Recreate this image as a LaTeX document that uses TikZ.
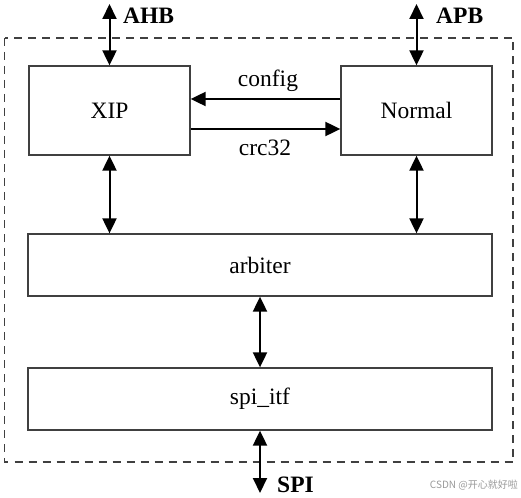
\documentclass[tikz,border=0pt]{standalone}
\usepackage{fontspec}
\setmainfont{Liberation Serif}
\newfontfamily\cjkfont{Noto Sans CJK SC}
\usetikzlibrary{arrows.meta}
\begin{document}
\begin{tikzpicture}[x=1pt,y=-1pt,
  blk/.style={draw=black!75,line width=1.3pt,minimum height=89pt,inner sep=0pt,font=\fontsize{23.5}{28}\selectfont},
  wide/.style={blk,minimum width=464pt,minimum height=62pt},
  arr/.style={line width=2pt,-{Triangle[width=14pt,length=15pt]}},
  darr/.style={line width=2pt,{Triangle[width=14pt,length=15pt]}-{Triangle[width=14pt,length=15pt]}},
  lbl/.style={font=\fontsize{23.5}{28}\selectfont,inner sep=0pt},
  blbl/.style={font=\fontsize{23.5}{28}\selectfont\bfseries,inner sep=0pt,anchor=west}]
\useasboundingbox (0,0) rectangle (521,497);
\draw[black!75,line width=1.3pt,dash pattern=on 8pt off 6pt] (4.5,38) rectangle (513,462);
\node[blk,minimum width=161pt] (xip) at (109.5,110.5) {XIP};
\node[blk,minimum width=151pt] (normal) at (416.5,110.5) {Normal};
\node[wide] (arb) at (260,265) {arbiter};
\node[wide] (spi) at (260,399) {spi\_itf};
\coordinate (ahbT) at (109.5,4);
\coordinate (apbT) at (416.5,4);
\coordinate (spiB) at (260,493);
\draw[darr] (ahbT) -- (xip.north);
\draw[darr] (apbT) -- (normal.north);
\node[blbl] (ahb) at (123,16) {AHB};
\node[blbl] (apb) at (436,16) {APB};
\draw[arr] (normal.west |- 0,99) -- (xip.east |- 0,99);
\draw[arr] (xip.east |- 0,129) -- (normal.west |- 0,129);
\node[lbl] (cfg) at (268,81) {config};
\node[lbl] (crc) at (265,148) {crc32};
\draw[darr] (xip.south) -- (xip.south |- arb.north);
\draw[darr] (normal.south) -- (normal.south |- arb.north);
\draw[darr] (arb.south) -- (spi.north);
\draw[darr] (spi.south) -- (spiB);
\node[blbl] (spil) at (277,485) {SPI};
\node[font=\cjkfont\fontsize{10}{11}\selectfont,text=black!40,anchor=east,inner sep=0pt] (wm) at (518,485) {CSDN @开心就好啦};
\end{tikzpicture}
\end{document}
